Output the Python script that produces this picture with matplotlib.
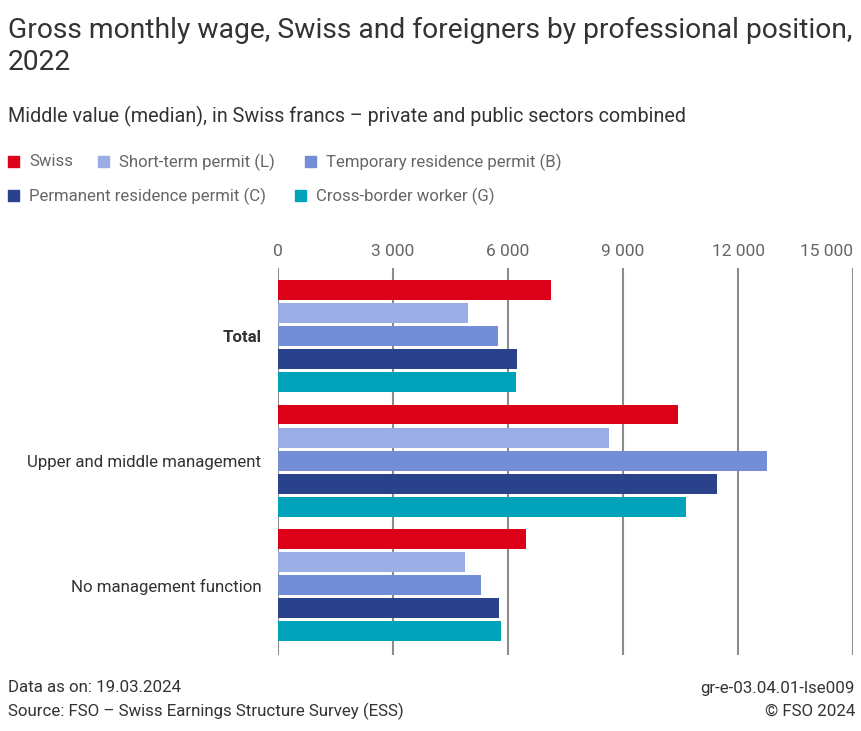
import numpy as np
import matplotlib.pyplot as plt

plt.rcParams['font.family'] = ['Roboto', 'DejaVu Sans']

# Datos
categorias = ['Total', 'Upper and middle management', 'No management function']
series = ['Swiss', 'Short-term permit (L)', 'Temporary residence permit (B)',
          'Permanent residence permit (C)', 'Cross-border worker (G)']
swiss = [7130, 10430, 6460]
permiso_l = [4950, 8630, 4880]
permiso_b = [5730, 12750, 5290]
permiso_c = [6245, 11455, 5765]
fronterizo = [6200, 10650, 5830]
xticks = [0, 3000, 6000, 9000, 12000, 15000]
xlabels = ['0', '3 000', '6 000', '9 000', '12 000', '15 000']

colores = ['#DC0018', '#9BADE5', '#738ED7', '#2A418B', '#00A3BA']
valores = [swiss, permiso_l, permiso_b, permiso_c, fronterizo]

fig = plt.figure(figsize=(8.62, 7.31), dpi=100)
ax = fig.add_axes([278/862, 1-655/731, (853-278)/862, (655-268)/731])

y = np.arange(len(categorias))
paso, alto = 0.185, 0.16
for j, (vals, c, nom) in enumerate(zip(valores, colores, series)):
    ax.barh(y + (j-2)*paso, vals, height=alto, color=c, label=nom, zorder=3)

ax.set_xlim(0, 15000)
ax.set_ylim(2.56, -0.546)
ax.set_xticks(xticks)
ax.set_xticklabels(xlabels)
ax.xaxis.tick_top()
ax.tick_params(axis='x', length=0, pad=6.5, labelsize=12.5, colors='#666666')
ax.get_xticklabels()[-1].set_horizontalalignment('right')
ax.set_yticks(y)
ax.set_yticklabels(categorias)
ax.tick_params(axis='y', length=0, pad=12, labelsize=12.2, colors='#333333')
ax.get_yticklabels()[0].set_fontweight('bold')
ax.grid(axis='x', color='#8c8c8c', linewidth=1.5, zorder=0)
for s in ax.spines.values():
    s.set_visible(False)

# Títulos
fig.text(8/862, 1-30/731, 'Gross monthly wage, Swiss and foreigners by professional position,',
         fontsize=20.3, color='#333333', va='center')
fig.text(8/862, 1-63/731, '2022', fontsize=20.3, color='#333333', va='center')
fig.text(8/862, 1-116/731, 'Middle value (median), in Swiss francs – private and public sectors combined',
         fontsize=14.2, color='#333333', va='center')

# Leyenda
leg_pos = [(8, 162), (98, 162), (305, 162), (8, 196), (295, 196)]
for (px, py), c, nom in zip(leg_pos, colores, series):
    fig.patches.append(plt.Rectangle((px/862, 1-(py+5)/731), 11/862, 11/731,
                                     transform=fig.transFigure, color=c))
    fig.text((px+21)/862, 1-py/731, nom, fontsize=12.1, color='#666666', va='center')

# Pie
fig.text(8/862, 1-688/731, 'Data as on: 19.03.2024', fontsize=12.2, color='#333333', va='center')
fig.text(8/862, 1-711/731, 'Source: FSO – Swiss Earnings Structure Survey (ESS)',
         fontsize=12.2, color='#333333', va='center')
fig.text(855/862, 1-688/731, 'gr-e-03.04.01-lse009', fontsize=12.2, color='#333333',
         va='center', ha='right')
fig.text(855/862, 1-711/731, '© FSO 2024', fontsize=12.2, color='#333333',
         va='center', ha='right')

fig.savefig('out.png', dpi=100)
